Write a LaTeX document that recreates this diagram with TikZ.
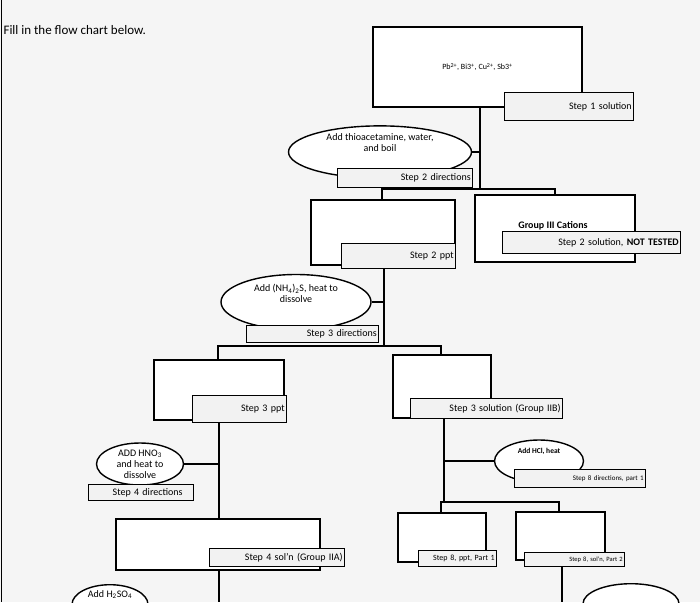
\documentclass[tikz,border=0pt]{standalone}
\usepackage{fontspec}
\setmainfont{Carlito}
\usetikzlibrary{shapes.geometric}
\begin{document}
\begin{tikzpicture}[x=1pt,y=-1pt,
  bx/.style={draw,line width=1.6pt,fill=white},
  lb/.style={draw,line width=1.4pt,fill=gray!10,font=\fontsize{10}{11}\selectfont,align=right,anchor=north west,inner sep=1pt},
  ov/.style={draw,ellipse,line width=1.4pt,fill=white,font=\fontsize{10}{11}\selectfont,align=center,inner sep=0pt},
  ln/.style={line width=1.6pt}]
\fill[gray!8] (0,0) rectangle (700,602);
\useasboundingbox (0,0) rectangle (700,602);
\draw[line width=1pt] (1,0) -- (1,602);
\node[anchor=west,font=\fontsize{13}{15}\selectfont] (title) at (0,30) {Fill in the flow chart below.};
% top
\node[bx,minimum width=209pt,minimum height=80pt,font=\fontsize{8}{9}\selectfont] (pb) at (477.5,67) {Pb\textsuperscript{2+}, Bi3\textsuperscript{+}, Cu\textsuperscript{2+}, Sb3\textsuperscript{+}};
\draw[ln] (480,107) -- (480,189);
\node[lb,minimum width=129pt,minimum height=28pt,text width=125pt] (s1) at (504,92) {Step 1 solution};
\node[ov,minimum width=183pt,minimum height=52pt] (e1) at (380,152) {Add thioacetamine, water,\\and boil\\[8pt]};
\draw[ln] (e1.east) -- (480,152);
\node[lb,minimum width=135pt,minimum height=19pt,text width=131pt] (s2d) at (337,168) {Step 2 directions};
\coordinate (b1) at (480,189);
\draw[ln] (382,200) |- (b1) -| (555,195);
\node[bx,minimum width=144pt,minimum height=65pt] (bl) at (383,232.5) {};
\node[bx,minimum width=160pt,minimum height=67pt] (br) at (555,228.5) {};
\node[font=\fontsize{10}{11}\selectfont\bfseries] (g3) at (553,226) {Group III Cations};
\node[lb,minimum width=114pt,minimum height=25pt,text width=110pt] (s2p) at (341,243) {Step 2 ppt};
\node[lb,minimum width=178pt,minimum height=22pt,text width=174pt] (s2s) at (502,231) {Step 2 solution, \textbf{NOT TESTED}};
% second level
\draw[ln] (384,268) -- (384,346);
\node[ov,minimum width=150pt,minimum height=55pt] (e2) at (296,302) {Add (NH\textsubscript{4})\textsubscript{2}S, heat to\\dissolve\\[6pt]};
\draw[ln] (e2.east) -- (384,302);
\node[lb,minimum width=132pt,minimum height=17pt,text width=128pt] (s3d) at (246,325) {Step 3 directions};
\coordinate (b2) at (384,346);
\draw[ln] (218,360) |- (b2) -| (441,355);
\node[bx,minimum width=130pt,minimum height=60pt] (cl) at (219,390) {};
\node[bx,minimum width=98pt,minimum height=63pt] (cr) at (442,386.5) {};
\node[lb,minimum width=94pt,minimum height=27pt,text width=90pt] (s3p) at (192,395) {Step 3 ppt};
\node[lb,minimum width=152pt,minimum height=20pt,text width=148pt] (s3s) at (410,398) {Step 3 solution (Group IIB)};
% left branch
\draw[ln] (219,422) -- (219,519);
\node[ov,minimum width=87pt,minimum height=42pt] (e3) at (140,464) {ADD HNO\textsubscript{3}\\and heat to\\dissolve};
\draw[ln] (e3.east) -- (219,464);
\node[lb,minimum width=105pt,minimum height=16pt,text width=101pt,align=left] (s4d) at (88,484) {\hspace{22pt}Step 4 directions};
\node[bx,minimum width=204pt,minimum height=51pt] (d4) at (218,544.5) {};
\node[lb,minimum width=135pt,minimum height=18pt,text width=131pt] (s4s) at (209,548) {Step 4 sol'n (Group IIA)};
\draw[ln] (219,570) -- (219,602);
\node[ov,minimum width=76pt,minimum height=26pt,anchor=north] (e5) at (110,584) {Add H\textsubscript{2}SO\textsubscript{4}\\[10pt]};
% right branch
\draw[ln] (444,418) -- (444,502);
\node[ov,minimum width=89pt,minimum height=42pt,font=\fontsize{7.5}{8}\selectfont\bfseries] (e4) at (539,461) {Add HCl, heat\\[12pt]};
\draw[ln] (444,461) -- (e4.west);
\node[lb,minimum width=131pt,minimum height=18pt,text width=127pt,font=\fontsize{7}{8}\selectfont] (s8d) at (514,469) {Step 8 directions, part 1};
\coordinate (b3) at (444,502);
\draw[ln] (441,513) |- (b3) -| (559,512);
\node[bx,minimum width=88pt,minimum height=49pt] (fl) at (442,537.5) {};
\node[bx,minimum width=89pt,minimum height=48pt] (fr) at (560.5,536) {};
\node[lb,minimum width=78pt,minimum height=16pt,text width=74pt,font=\fontsize{8}{9}\selectfont] (s8p) at (418,550) {Step 8, ppt, Part 1};
\node[lb,minimum width=100pt,minimum height=14pt,text width=96pt,font=\fontsize{6.5}{7}\selectfont] (s8s) at (524,552) {Step 8, sol'n, Part 2};
\draw[ln] (562,566) -- (562,602);
\node[ov,minimum width=96pt,minimum height=40pt,anchor=north] (e6) at (631,583) {};
\end{tikzpicture}
\end{document}
